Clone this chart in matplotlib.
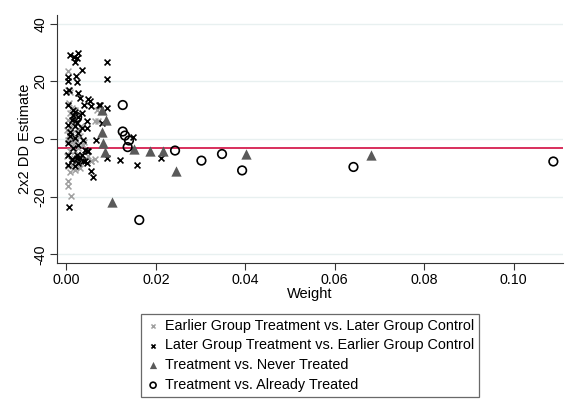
import matplotlib
matplotlib.use("Agg")
import matplotlib.pyplot as plt

plt.rcParams['font.family'] = ['Liberation Sans', 'DejaVu Sans']

# Earlier Group Treatment vs. Later Group Control (light grey x)
earlier_w = [0.0003, 0.0003, 0.0008, 0.0068, 0.0012, 0.0008, 0.0019, 0.0004,
             0.0015, 0.0008, 0.0026, 0.0012, 0.0004, 0.0030, 0.0015, 0.0038,
             0.0008, 0.0019, 0.0034, 0.0049, 0.0064, 0.0071, 0.0012, 0.0026,
             0.0023, 0.0056, 0.0003, 0.0004, 0.0010, 0.0004, 0.0019, 0.0030,
             0.0056, 0.0064, 0.0006, 0.0010, 0.0002, 0.0017, 0.0027, 0.0014,
             0.0005, 0.0009, 0.0002, 0.0033, 0.0040, 0.0022, 0.0012]
earlier_est = [23.6, 17.1, 16.4, 10.1, 10.7, 9.0, 10.1, 6.7,
               5.5, 3.8, 3.2, 2.0, -0.2, 0.9, -0.8, -2.0,
               -4.3, -4.3, -5.4, -6.0, 6.1, 6.1, -2.5, -3.1,
               -7.8, -7.8, -14.6, -16.3, -19.8, -9.4, -10.6, -10.0,
               -7.5, -7.1, 1.5, -1.0, 3.0, -6.5, -8.5, 7.5,
               12.5, -11.5, -6.0, 4.5, -1.0, -0.5, -9.0]

# Later Group Treatment vs. Earlier Group Control (black x)
later_w = [0.0008, 0.0017, 0.0026, 0.0019, 0.0023, 0.0090, 0.0035, 0.0090,
           0.0004, 0.0021, 0.0004, 0.0023, 0.0006, 0.0000, 0.0025, 0.0053,
           0.0073, 0.0090, 0.0015, 0.0079, 0.0149, 0.0091, 0.0121, 0.0158,
           0.0211, 0.0045, 0.0056, 0.0060, 0.0006, 0.0004, 0.0030, 0.0049,
           0.0039, 0.0056, 0.0075, 0.0019, 0.0035, 0.0015, 0.0026, 0.0012,
           0.0045, 0.0023, 0.0004, 0.0019, 0.0034, 0.0008, 0.0045, 0.0026,
           0.0008, 0.0019, 0.0038, 0.0067, 0.0004, 0.0026, 0.0015, 0.0041,
           0.0049, 0.0004, 0.0023, 0.0012, 0.0030, 0.0038, 0.0004, 0.0019,
           0.0012, 0.0023, 0.0034, 0.0045, 0.0026, 0.0041]
later_est = [29.3, 28.5, 29.7, 26.6, 28.1, 26.8, 23.9, 21.0,
             21.6, 21.9, 20.1, 19.9, 17.0, 16.4, 16.1, 13.3,
             11.8, 10.7, 10.1, 5.7, 0.7, -6.6, -7.4, -9.1,
             -6.6, -8.3, -11.2, -13.1, -23.6, 11.8, 14.1, 13.8,
             11.8, 11.5, 11.8, 9.5, 9.2, 8.4, 7.8, 6.7,
             6.1, 5.5, 4.9, 4.4, 3.8, 2.6, 3.8, 2.0,
             0.9, 0.3, -0.2, -0.2, -1.4, -2.0, -3.1, -3.7,
             -4.3, -5.4, -5.4, -7.2, -6.6, -7.8, -8.9, -9.2,
             -7.1, -6.6, -5.4, -4.3, -8.3, -7.7]

# Treatment vs. Never Treated (grey triangles)
never_w = [0.0079, 0.0088, 0.0079, 0.0082, 0.0086, 0.0152, 0.0188, 0.0217,
           0.0245, 0.0401, 0.0101, 0.0681]
never_est = [9.9, 6.7, 2.6, -1.4, -4.6, -3.4, -4.3, -4.0,
             -11.2, -5.2, -21.9, -5.4]

# Treatment vs. Already Treated (hollow circles)
already_w = [0.0126, 0.0126, 0.0131, 0.0140, 0.0137, 0.0243, 0.0302, 0.0348,
             0.0393, 0.0163, 0.0642, 0.1089, 0.0024]
already_est = [11.8, 2.6, 1.2, -0.5, -2.8, -4.0, -7.5, -5.2,
               -10.9, -28.1, -9.7, -7.8, 7.6]

dd_estimate = -3.1

fig = plt.figure(figsize=(5.78, 4.2), dpi=100)
ax = fig.add_axes([0.0986, 0.374, 0.875, 0.590])

ax.axhline(dd_estimate, color='#d51f4f', lw=1.3, zorder=1)
ax.scatter(earlier_w, earlier_est, marker='x', s=18, color='#a0a0a0',
           linewidths=1.1, zorder=2,
           label='Earlier Group Treatment vs. Later Group Control')
ax.scatter(later_w, later_est, marker='x', s=18, color='black',
           linewidths=1.2, zorder=3,
           label='Later Group Treatment vs. Earlier Group Control')
ax.scatter(never_w, never_est, marker='^', s=55, color='#5a5a5a',
           linewidths=0, zorder=4, label='Treatment vs. Never Treated')
ax.scatter(already_w, already_est, marker='o', s=38, facecolors='none',
           edgecolors='black', linewidths=1.2, zorder=5,
           label='Treatment vs. Already Treated')

ax.set_xlim(-0.0021, 0.111)
ax.set_ylim(-43, 43)
ax.set_xticks([0, 0.02, 0.04, 0.06, 0.08, 0.10])
ax.set_xticklabels(['0.00', '0.02', '0.04', '0.06', '0.08', '0.10'])
ax.set_yticks([-40, -20, 0, 20, 40])
ax.set_yticklabels(['-40', '-20', '0', '20', '40'], rotation=90, va='center')
ax.yaxis.grid(True, color='#e8f0f0', lw=1)
ax.set_axisbelow(True)
for side in ['top', 'right']:
    ax.spines[side].set_visible(False)
for side in ['left', 'bottom']:
    ax.spines[side].set_color('#333333')
ax.tick_params(direction='out', length=5, color='#333333', labelsize=10.3)
ax.tick_params(axis='y', pad=2)
ax.tick_params(axis='x', pad=2)
ax.set_xlabel('Weight', fontsize=10.5, labelpad=0)
ax.set_ylabel('2x2 DD Estimate', fontsize=10.5, labelpad=1)

leg = fig.legend(loc='center', bbox_to_anchor=(0.536, 0.154), fontsize=10.4,
                 frameon=True, fancybox=False, edgecolor='#444444',
                 handletextpad=0.3, labelspacing=0.4, borderpad=0.35,
                 handlelength=1.0, borderaxespad=0, markerscale=0.7)
leg.get_frame().set_linewidth(0.9)

fig.savefig('out.png', dpi=100)
